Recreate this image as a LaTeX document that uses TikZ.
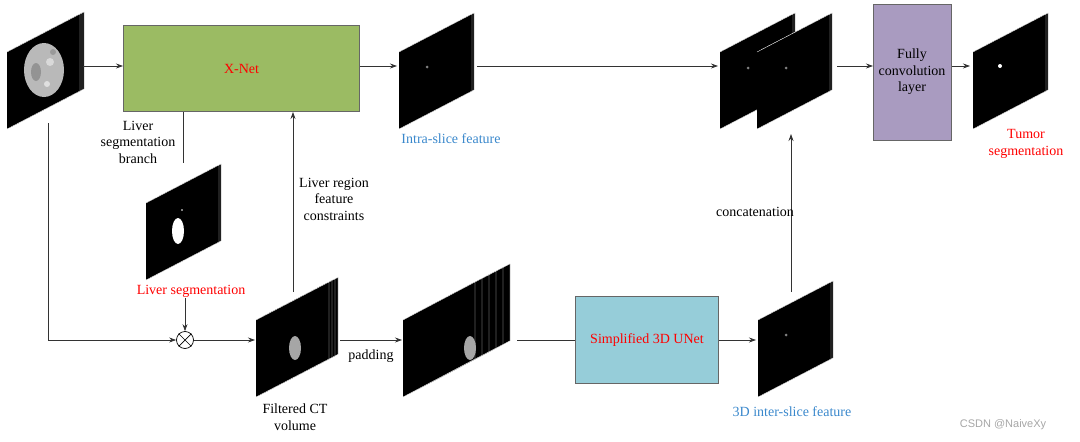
\documentclass[tikz,border=0pt]{standalone}
\usepackage{fontspec}
\setmainfont{Liberation Serif}
\newfontfamily\wmfont{Liberation Sans}
\usetikzlibrary{arrows.meta}
\definecolor{xgreen}{HTML}{9BBB63}
\definecolor{fcpurple}{HTML}{A99BC0}
\definecolor{ublue}{HTML}{96CDD9}
\definecolor{lblue}{HTML}{3A88CC}
\newcommand{\myslice}[5]{% x0, ytop-left, width, layers, step
  \foreach \i in {#4,...,0}{
    \fill[black] ({#1+#5*\i},{#2-0.52*#5*\i}) -- ({#1+#3+#5*\i},{#2-38-0.52*#5*\i}) -- ({#1+#3+#5*\i},{#2+39-0.52*#5*\i}) -- ({#1+#5*\i},{#2+77-0.52*#5*\i}) -- cycle;
    \draw[white,line width=0.3pt] ({#1+#5*\i},{#2+77-0.52*#5*\i}) -- ({#1+#3+#5*\i},{#2+39-0.52*#5*\i}) -- ({#1+#3+#5*\i},{#2-38-0.52*#5*\i}) -- ({#1+#5*\i},{#2-0.52*#5*\i});
  }}
\begin{document}
\begin{tikzpicture}[x=1pt,y=-1pt,font=\fontsize{14}{16.5}\selectfont,
  conn/.style={draw=black!80,line width=0.7pt},
  arr/.style={conn,-{Stealth[length=7pt,width=5pt]}},
  box/.style={draw=black!60,line width=1pt,anchor=north west,inner sep=0pt},
  lab/.style={align=center}]
\useasboundingbox (0,0) rectangle (1080,442);
% slices
\myslice{7}{52}{73}{2}{2}
\fill[gray!55] (44,70) ellipse (20 and 27);
\fill[gray!30] (50,62) circle (4); \fill[gray!80] (53,52) circle (3);\fill[gray!25] (47,84) circle (3);\fill[gray!85] (36,72) ellipse (5 and 9);
\myslice{399}{52}{73}{1}{2}
\fill[gray] (427,67) circle (1.5);
\myslice{720}{52}{73}{1}{2}
\myslice{757}{52}{73}{1}{2}
\fill[gray] (748,68) circle (1.5); \fill[gray] (786,68) circle (1.5);
\myslice{973}{52}{73}{1}{2}
\fill[white] (1000,66) circle (2);
\myslice{146}{203}{73}{1}{2}
\fill[white] (178,231) ellipse (6 and 13); \fill[white] (182,210) circle (0.8);
\myslice{256}{320}{73}{3}{3}
\fill[gray!70] (295,348) ellipse (6 and 12);
\myslice{403}{320}{72}{5}{7}
\fill[gray!70] (470,348) ellipse (6 and 12);
\myslice{758}{320}{73}{1}{2}
\fill[gray] (786,335) circle (1.5);
% boxes
\node[box,fill=xgreen,minimum width=236pt,minimum height=86pt] (xnet) at (123,25) {};
\node[text=red] at (xnet.center) {X-Net};
\node[box,fill=fcpurple,minimum width=78pt,minimum height=136pt] (fc) at (873,4) {};
\node[lab] at (912,72) {Fully\\convolution\\layer};
\node[box,fill=ublue,minimum width=143pt,minimum height=87pt] (unet) at (575,296) {};
\node[text=red] at (unet.center) {Simplified 3D UNet};
\node[draw,circle,minimum size=17pt,inner sep=0pt,line width=0.7pt] (ot) at (185,340) {};
\draw[line width=0.7pt] (ot.north west) -- (ot.south east) (ot.north east) -- (ot.south west);
% coordinates
\coordinate (in) at (83,66); \coordinate (inb) at (48,123); \coordinate (inc) at (48,340);
\coordinate (intraL) at (397,66); \coordinate (intraR) at (477,66);
\coordinate (catL) at (718,66); \coordinate (catR) at (837,66);
\coordinate (tum) at (970,66);
\coordinate (br) at (183,163);
\coordinate (lsb) at (185,298);
\coordinate (fL) at (255,340); \coordinate (fT) at (293,292); \coordinate (fR) at (340,340);
\coordinate (pL) at (402,340); \coordinate (pR) at (517,340);
\coordinate (iL) at (756,340); \coordinate (iT) at (791,292); \coordinate (cB) at (791,134);
% connectors
\draw[arr] (in) -- (xnet.west|-in);
\draw[arr] (xnet.east|-intraL) -- (intraL);
\draw[arr] (intraR) -- (catL);
\draw[arr] (catR) -- (fc.west|-catR);
\draw[arr] (fc.east|-tum) -- (tum);
\draw[conn] (xnet.south-|br) -- (br);
\draw[arr] (lsb) -- (ot);
\draw[arr] (inb) -- (inc) -- (ot);
\draw[arr] (ot) -- (fL);
\draw[arr] (fT) -- (xnet.south-|fT);
\draw[arr] (fR) -- (pL);
\draw[conn] (pR) -- (unet.west|-pR);
\draw[arr] (unet.east|-iL) -- (iL);
\draw[arr] (iT) -- (cB);
% labels
\node[text=lblue] at (451,139) {Intra-slice feature};
\node[lab,text=red] at (1026,144) {Tumor\\segmentation};
\node[lab] at (138,142) {Liver\\segmentation\\branch};
\node[text=red] at (191,291) {Liver segmentation};
\node[lab] at (334,199) {Liver region\\feature\\constraints};
\node at (371,356) {padding};
\node[lab] at (295,417) {Filtered CT\\volume};
\node at (755,212) {concatenation};
\node[text=lblue] at (792,412) {3D inter-slice feature};
\node[text=gray!70,font=\wmfont\fontsize{11}{13}\selectfont] at (1003,425) {CSDN @NaiveXy};
\end{tikzpicture}
\end{document}
